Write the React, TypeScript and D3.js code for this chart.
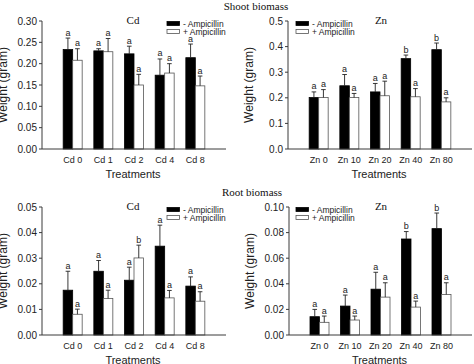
import React from "react";
import * as d3 from "d3";

const cdCats = ["Cd 0", "Cd 1", "Cd 2", "Cd 4", "Cd 8"];
const znCats = ["Zn 0", "Zn 10", "Zn 20", "Zn 40", "Zn 80"];

// shoot biomass, Cd
const shootCdMinus = [0.233, 0.23, 0.223, 0.173, 0.214];
const shootCdMinusErr = [0.027, 0.005, 0.018, 0.038, 0.032];
const shootCdPlus = [0.208, 0.228, 0.15, 0.178, 0.148];
const shootCdPlusErr = [0.027, 0.031, 0.025, 0.022, 0.023];
const shootCdMinusLetters = ["a", "a", "a", "a", "a"];
const shootCdPlusLetters = ["a", "a", "a", "a", "a"];

// shoot biomass, Zn
const shootZnMinus = [0.201, 0.247, 0.223, 0.353, 0.388];
const shootZnMinusErr = [0.022, 0.044, 0.033, 0.014, 0.026];
const shootZnPlus = [0.201, 0.201, 0.208, 0.204, 0.184];
const shootZnPlusErr = [0.031, 0.016, 0.057, 0.032, 0.016];
const shootZnMinusLetters = ["a", "a", "a", "b", "b"];
const shootZnPlusLetters = ["a", "a", "a", "a", "a"];

// root biomass, Cd
const rootCdMinus = [0.0175, 0.0249, 0.0214, 0.0347, 0.0191];
const rootCdMinusErr = [0.0074, 0.0042, 0.0051, 0.0082, 0.0036];
const rootCdPlus = [0.0081, 0.0143, 0.0301, 0.0145, 0.0132];
const rootCdPlusErr = [0.002, 0.0032, 0.005, 0.0029, 0.0037];
const rootCdMinusLetters = ["a", "a", "a", "a", "a"];
const rootCdPlusLetters = ["a", "a", "b", "a", "a"];

// root biomass, Zn
const rootZnMinus = [0.0143, 0.0226, 0.0358, 0.075, 0.0831];
const rootZnMinusErr = [0.0057, 0.0086, 0.0132, 0.0058, 0.0122];
const rootZnPlus = [0.0099, 0.0117, 0.0296, 0.0218, 0.0317];
const rootZnPlusErr = [0.0049, 0.0031, 0.0112, 0.0047, 0.0091];
const rootZnMinusLetters = ["a", "a", "a", "b", "b"];
const rootZnPlusLetters = ["a", "a", "a", "a", "a"];

const legendLabels = ["- Ampicillin", "+ Ampicillin"];

const SANS = "'Liberation Sans', Arial, sans-serif";
const SERIF = "'Liberation Serif', 'Times New Roman', serif";
const AXIS = "#3a3a3a";

type PanelProps = {
  cats: string[];
  minus: number[];
  minusErr: number[];
  plus: number[];
  plusErr: number[];
  minusLetters: string[];
  plusLetters: string[];
  yMax: number;
  step: number;
  fmt: string;
  title: string;
  left: number;
  right: number;
  top: number;
  bottom: number;
  titleX: number;
  legendX: number;
};

const Panel = (p: PanelProps) => {
  const x = d3.scaleLinear().domain([0, 6]).range([p.left, p.right]);
  const y = d3.scaleLinear().domain([0, p.yMax]).range([p.bottom, p.top]);
  const ticks = d3.range(0, p.yMax + p.step / 2, p.step);
  const f = d3.format(p.fmt);
  const bw = 9.5;

  const bar = (v: number, e: number, letter: string, cx: number, fill: string, key: string) => (
    <g key={key}>
      <rect
        x={fill === "black" ? cx - bw : cx}
        y={y(v)}
        width={bw}
        height={y(0) - y(v)}
        fill={fill}
        stroke={fill === "black" ? "black" : "#555"}
        strokeWidth={0.8}
      />
      <line x1={cx + (fill === "black" ? -bw / 2 : bw / 2)} x2={cx + (fill === "black" ? -bw / 2 : bw / 2)} y1={y(v)} y2={y(v + e)} stroke="#222" strokeWidth={0.9} />
      <line x1={cx + (fill === "black" ? -bw / 2 : bw / 2) - 2.3} x2={cx + (fill === "black" ? -bw / 2 : bw / 2) + 2.3} y1={y(v + e)} y2={y(v + e)} stroke="#222" strokeWidth={0.9} />
      <text x={cx + (fill === "black" ? -bw / 2 : bw / 2)} y={y(v + e) - 2.5} textAnchor="middle" fontSize={9} fontFamily={SANS} fill="#222">
        {letter}
      </text>
    </g>
  );

  return (
    <g>
      {p.cats.map((c, i) => {
        const cx = x(i + 1);
        return (
          <g key={c}>
            {bar(p.minus[i], p.minusErr[i], p.minusLetters[i], cx, "black", "m")}
            {bar(p.plus[i], p.plusErr[i], p.plusLetters[i], cx, "white", "p")}
            <text x={cx} y={p.bottom + 14} textAnchor="middle" fontSize={9} fontFamily={SANS} fill="#222">
              {c}
            </text>
          </g>
        );
      })}
      <line x1={p.left} x2={p.left} y1={p.top} y2={p.bottom} stroke={AXIS} strokeWidth={1} />
      <line x1={p.left} x2={p.right} y1={p.bottom} y2={p.bottom} stroke={AXIS} strokeWidth={1} />
      {ticks.map((t) => (
        <g key={t}>
          <line x1={p.left - 3} x2={p.left} y1={y(t)} y2={y(t)} stroke={AXIS} strokeWidth={1} />
          <text x={p.left - 5} y={y(t) + 3.5} textAnchor="end" fontSize={10} fontFamily={SANS} fill="#222">
            {f(t)}
          </text>
        </g>
      ))}
      <text
        transform={`translate(${p.left - 35},${(p.top + p.bottom) / 2}) rotate(-90)`}
        textAnchor="middle"
        fontSize={12}
        fontFamily={SANS}
        fill="#222"
      >
        Weight (gram)
      </text>
      <text x={(p.left + p.right) / 2 - 1} y={p.bottom + 29} textAnchor="middle" fontSize={11} fontFamily={SANS} fill="#222">
        Treatments
      </text>
      <text x={p.titleX} y={p.top + 3} textAnchor="middle" fontSize={11} fontFamily={SERIF} fill="#111">
        {p.title}
      </text>
      {legendLabels.map((l, i) => (
        <g key={l}>
          <rect
            x={p.legendX}
            y={p.top + 0.5 + i * 8}
            width={12.5}
            height={4}
            fill={i === 0 ? "black" : "white"}
            stroke={i === 0 ? "black" : "#555"}
            strokeWidth={0.8}
          />
          <text x={p.legendX + 16} y={p.top + 5.5 + i * 8} fontSize={8.5} fontFamily={SANS} fill="#222">
            {l}
          </text>
        </g>
      ))}
    </g>
  );
};

export default function App() {
  return (
    <svg width={474} height={364} style={{ position: "absolute", left: 0, top: 0, background: "white" }}>
      <text x={256} y={10} textAnchor="middle" fontSize={11} fontFamily={SERIF} fill="#111">
        Shoot biomass
      </text>
      <text x={252} y={196} textAnchor="middle" fontSize={11} fontFamily={SERIF} fill="#111">
        Root biomass
      </text>
      <Panel
        cats={cdCats}
        minus={shootCdMinus}
        minusErr={shootCdMinusErr}
        plus={shootCdPlus}
        plusErr={shootCdPlusErr}
        minusLetters={shootCdMinusLetters}
        plusLetters={shootCdPlusLetters}
        yMax={0.3}
        step={0.05}
        fmt=".2f"
        title="Cd"
        left={42}
        right={226}
        top={21}
        bottom={149}
        titleX={133}
        legendX={167}
      />
      <Panel
        cats={znCats}
        minus={shootZnMinus}
        minusErr={shootZnMinusErr}
        plus={shootZnPlus}
        plusErr={shootZnPlusErr}
        minusLetters={shootZnMinusLetters}
        plusLetters={shootZnPlusLetters}
        yMax={0.5}
        step={0.1}
        fmt=".1f"
        title="Zn"
        left={288}
        right={472}
        top={21}
        bottom={149}
        titleX={381}
        legendX={296}
      />
      <Panel
        cats={cdCats}
        minus={rootCdMinus}
        minusErr={rootCdMinusErr}
        plus={rootCdPlus}
        plusErr={rootCdPlusErr}
        minusLetters={rootCdMinusLetters}
        plusLetters={rootCdPlusLetters}
        yMax={0.05}
        step={0.01}
        fmt=".2f"
        title="Cd"
        left={42}
        right={226}
        top={207}
        bottom={335}
        titleX={133}
        legendX={167}
      />
      <Panel
        cats={znCats}
        minus={rootZnMinus}
        minusErr={rootZnMinusErr}
        plus={rootZnPlus}
        plusErr={rootZnPlusErr}
        minusLetters={rootZnMinusLetters}
        plusLetters={rootZnPlusLetters}
        yMax={0.1}
        step={0.02}
        fmt=".2f"
        title="Zn"
        left={289}
        right={472}
        top={207}
        bottom={335}
        titleX={381}
        legendX={296}
      />
    </svg>
  );
}
